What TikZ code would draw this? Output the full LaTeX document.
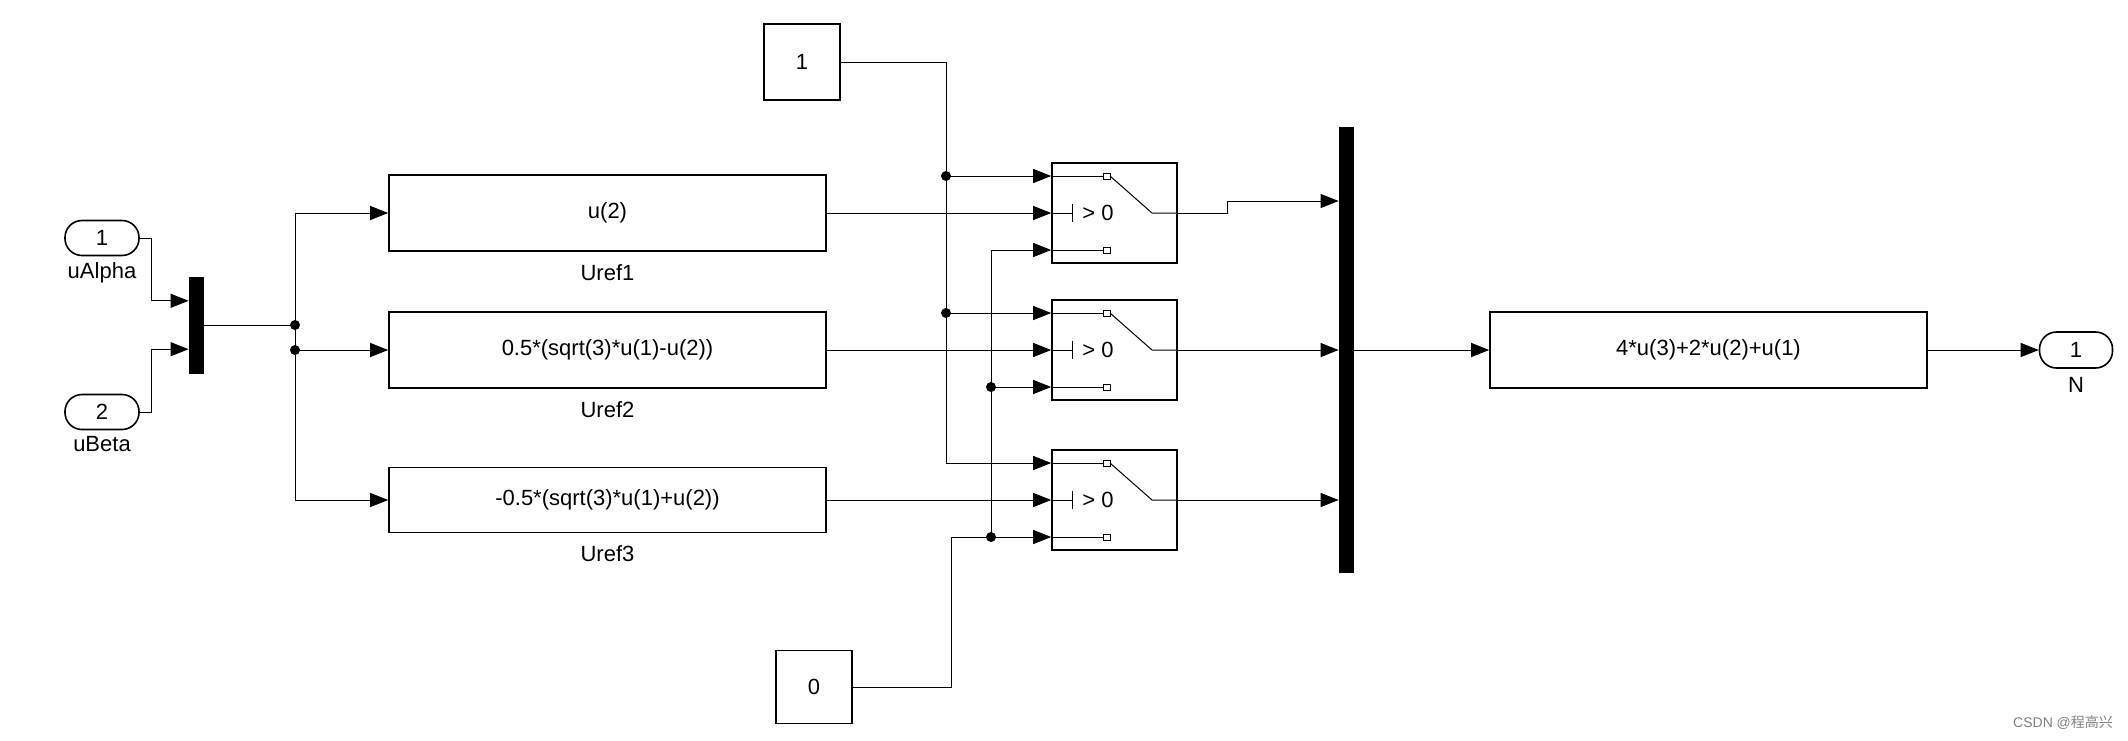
\documentclass[tikz,border=0pt]{standalone}
\usepackage{fontspec}
\setmainfont{Liberation Sans}
\newfontfamily\cjk{Noto Sans CJK SC}
\usetikzlibrary{positioning,calc,arrows.meta}
\tikzset{
  sig/.style={line width=0.5pt,-{Triangle[length=9pt,width=7pt]}},
  wire/.style={line width=0.5pt},
  blk/.style={draw,line width=0.8pt,fill=white,inner sep=0pt,font=\fontsize{11}{13}\selectfont},
  port/.style={blk,rounded corners=8.5pt,minimum width=37pt,minimum height=17.5pt},
  bar/.style={fill=black,draw=black,inner sep=0pt,minimum width=7pt},
  lbl/.style={font=\fontsize{11}{13}\selectfont,inner sep=1pt},
  dot/.style={circle,fill=black,inner sep=0pt,minimum size=5pt}
}
\begin{document}
\begin{tikzpicture}[x=0.5pt,y=-0.5pt]
\useasboundingbox (0,0) rectangle (2128,740);
% sources
\node[port] (in1) at (102,238) {1};
\node[port] (in2) at (102,412) {2};
\node[lbl,below=2pt of in1] {uAlpha};
\node[lbl,below=2pt of in2] {uBeta};
\node[bar,minimum height=48pt] (mux1) at (196,325) {};
\node[blk,minimum size=38pt] (c1) at (802,62) {1};
\node[blk,minimum width=38pt,minimum height=36.5pt] (c0) at (814,687) {0};
% functions
\node[blk,minimum width=218.5pt,minimum height=38pt] (uref1) at (607.5,213) {u(2)};
\node[blk,minimum width=218.5pt,minimum height=38pt] (uref2) at (607.5,350) {0.5*(sqrt(3)*u(1)-u(2))};
\node[blk,minimum width=218.5pt,minimum height=32.5pt] (uref3) at (607.5,500) {-0.5*(sqrt(3)*u(1)+u(2))};
\node[lbl,below=5pt of uref1] {Uref1};
\node[lbl,below=5pt of uref2] {Uref2};
\node[lbl,below=5pt of uref3] {Uref3};
% switches
\foreach \i/\y in {1/213,2/350,3/500}{
  \node[blk,minimum width=62.5pt,minimum height=50pt] (sw\i) at (1114.5,\y) {};
  \coordinate (sw\i a) at ($(sw\i.west)+(0,-37)$);
  \coordinate (sw\i b) at (sw\i.west);
  \coordinate (sw\i c) at ($(sw\i.west)+(0,37)$);
  \draw[wire] (sw\i a) -- (1103,\y-37) (sw\i c) -- (1103,\y+37);
  \draw[line width=0.4pt,fill=white] (1103,\y-40) rectangle (1110,\y-34);
  \draw[line width=0.4pt,fill=white] (1103,\y+34) rectangle (1110,\y+40);
  \draw[wire] (1110,\y-37) -- (1152,\y) -- (sw\i.east);
  \draw[wire] (sw\i b) -- (1072,\y) (1072,\y-9) -- (1072,\y+9);
  \node[lbl,anchor=west] at (1080,\y) {> 0};
}
\node[bar,minimum height=222.5pt] (mux2) at (1346,350) {};
\node[blk,minimum width=218.5pt,minimum height=38pt] (fn) at (1708.5,350) {4*u(3)+2*u(2)+u(1)};
\node[port,minimum width=36.5pt,minimum height=18pt] (out) at (2076,350) {1};
\node[lbl,below=3pt of out] {N};
% inputs to mux
\draw[sig] (in1.east) -- ++(12,0) |- ($(mux1.north west)!0.25!(mux1.south west)$);
\draw[sig] (in2.east) -- ++(12,0) |- ($(mux1.north west)!0.75!(mux1.south west)$);
\coordinate (s1) at (295,325);
\coordinate (s2) at (295,350);
\draw[wire] (mux1.east) -- (s1);
\draw[sig] (s1) |- (uref1.west);
\draw[wire] (s1) -- (s2);
\draw[sig] (s2) -- (uref2.west);
\draw[sig] (s2) |- (uref3.west);
\node[dot] at (s1) {};
\node[dot] at (s2) {};
% to switches
\foreach \i in {1,2,3}{
  \draw[sig] (uref\i.east) -- (sw\i b);
}
\coordinate (j1) at (946,176);
\coordinate (j2) at (946,313);
\draw[wire] (c1.east) -| (j1);
\draw[sig] (j1) -- (sw1a);
\draw[wire] (j1) -- (j2);
\draw[sig] (j2) -- (sw2a);
\draw[sig] (j2) |- (sw3a);
\coordinate (k1) at (991,387);
\coordinate (k2) at (991,537);
\draw[wire] (c0.east) -| (951,537);
\draw[sig] (951,537) -- (sw3c);
\draw[wire] (k2) -- (k1);
\draw[sig] (k1) -- (sw2c);
\draw[sig] (k1) |- (sw1c);
\foreach \p in {j1,j2,k1,k2} \node[dot] at (\p) {};
% to output
\draw[sig] (sw1.east) -- (1227,213) -- (1227,201) -- (mux2.west|-0,201);
\draw[sig] (sw2.east) -- (mux2.west|-sw2.east);
\draw[sig] (sw3.east) -- (mux2.west|-sw3.east);
\draw[sig] (mux2.east|-fn.west) -- (fn.west);
\draw[sig] (fn.east) -- (out.west);
\node[text=gray,font=\fontsize{7}{8}\selectfont,anchor=east] (wm) at (2120,723) {CSDN @{\cjk 程高兴}};
\end{tikzpicture}
\end{document}
